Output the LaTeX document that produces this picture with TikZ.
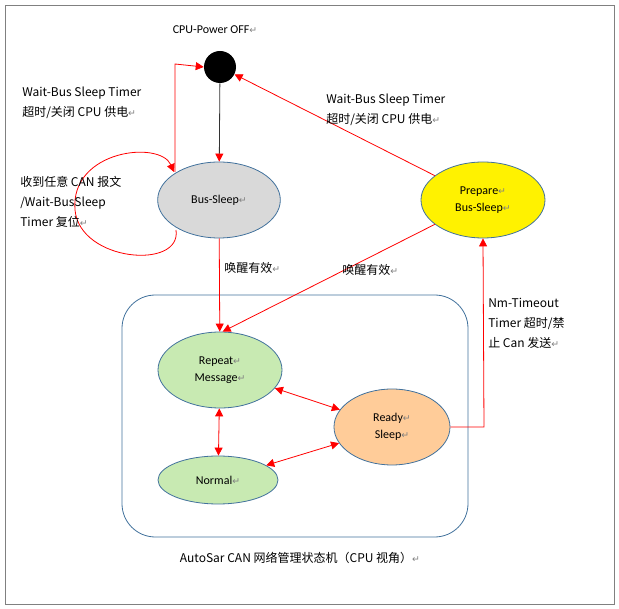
\documentclass[tikz,border=0pt]{standalone}
\usepackage{fontspec}
\setmainfont{Carlito}
\newfontfamily\cjk{Noto Sans CJK SC}
\newfontfamily\mk{DejaVu Sans}
\usetikzlibrary{arrows.meta,shapes.geometric}
\definecolor{bord}{RGB}{65,113,156}
\newcommand{\rt}{{\mk\color{gray}\scriptsize ↵}}
\begin{document}
\begin{tikzpicture}[x=0.75pt,y=-0.75pt,
  st/.style={ellipse,draw=bord,line width=0.6pt,align=center,font=\small,inner sep=0pt},
  ar/.style={red,line width=0.6pt,-{Triangle[length=6pt,width=6pt]}},
  dar/.style={red,line width=0.6pt,{Triangle[length=6pt,width=6pt]}-{Triangle[length=6pt,width=6pt]}},
  lab/.style={font=\cjk\small,align=left,inner sep=0pt}]
\draw[gray,line width=0.6pt] (5,5) rectangle (614,604);
\useasboundingbox (0,0) rectangle (619,609);
\draw[bord,line width=0.6pt,rounded corners=25pt] (122,295) rectangle (468,537);
\node[circle,fill=black,minimum size=24pt,inner sep=0pt] (off) at (220,67) {};
\node[font=\small] (offl) at (215,30) {CPU-Power OFF\rt};
\node[st,fill=gray!30,minimum width=92pt,minimum height=57pt] (bs) at (219,200) {Bus-Sleep\rt};
\node[st,fill=yellow,minimum width=93pt,minimum height=57pt] (pbs) at (483,200) {Prepare\rt\\[2pt]Bus-Sleep\rt};
\node[st,fill=green!45!olive!30,minimum width=93pt,minimum height=57pt] (rm) at (220,370) {Repeat\rt\\[2pt]Message\rt};
\node[st,fill=green!45!olive!30,minimum width=90pt,minimum height=36pt] (nm) at (218,480) {Normal\rt};
\node[st,fill=orange!40,minimum width=87pt,minimum height=57pt] (rs) at (392,427) {Ready\rt\\[2pt]Sleep\rt};
\draw[black!80,line width=0.6pt,-{Triangle[length=6pt,width=6pt,color=red]}] (off) -- (bs);
\coordinate (c1) at (175,64);
\coordinate (c2) at (175,172);
\draw[ar] (c2) -- (c1) -- (off.west);
\draw[ar] (176,230) .. controls (182,270) and (80,262) .. (75,210) .. controls (70,150) and (160,140) .. (174,172);
\draw[ar] (bs) -- (rm);
\draw[ar] (pbs) -- (off);
\draw[ar] (pbs) -- ([xshift=2pt]rm.north);
\coordinate (c4) at (484,427);
\draw[ar] (rs.east) -- (c4) -- (pbs.south);
\draw[dar] (rm) -- (rs);
\draw[dar] (nm) -- (rs);
\draw[dar] (rm) -- (nm);
\node[lab,anchor=north west] (l1) at (22,87) {Wait-Bus Sleep Timer\\[4pt]超时/关闭 CPU 供电\rt};
\node[lab,anchor=north west] (l2) at (326,94) {Wait-Bus Sleep Timer\\[4pt]超时/关闭 CPU 供电\rt};
\node[lab,anchor=north west] (l3) at (20,176) {收到任意 CAN 报文\\[4pt]/Wait-BusSleep\\[4pt]Timer 复位\rt};
\node[lab,anchor=west] (l4) at (224,268) {唤醒有效\rt};
\node[lab,anchor=west] (l5) at (342,270) {唤醒有效\rt};
\node[lab,anchor=north west] (l6) at (488,298) {Nm-Timeout\\[4pt]Timer 超时/禁\\[4pt]止 Can 发送\rt};
\node[lab,anchor=center] (l7) at (300,558) {AutoSar CAN 网络管理状态机（CPU 视角）\rt};
\end{tikzpicture}
\end{document}
